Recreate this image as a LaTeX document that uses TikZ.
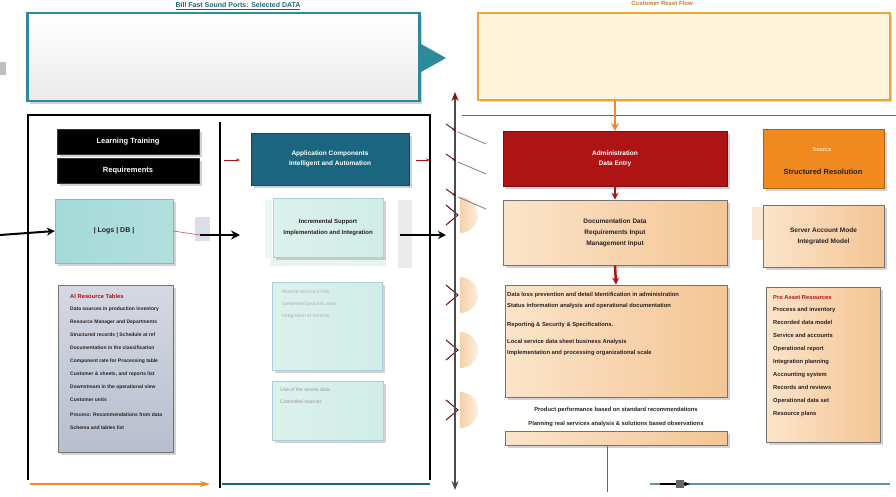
\documentclass[tikz,border=0pt]{standalone}
\usepackage{fontspec}
\setmainfont{Liberation Sans}
\usetikzlibrary{arrows.meta,shadows,calc}
\definecolor{tealb}{HTML}{2E8A9A}
\definecolor{darkteal}{HTML}{1A6680}
\definecolor{lteal}{HTML}{A4DAD8}
\definecolor{pteal}{HTML}{DCF1EC}
\definecolor{gblue}{HTML}{C2C8D8}
\definecolor{dred}{HTML}{AE1414}
\definecolor{orng}{HTML}{F08A1E}
\definecolor{peach}{HTML}{F4C594}
\definecolor{lpeach}{HTML}{FBE4CA}
\definecolor{ylw}{HTML}{FFF5DA}
\definecolor{ylwb}{HTML}{EAA53A}
\definecolor{txt}{HTML}{2A2020}
\tikzset{
  sh/.style={drop shadow={opacity=0.35,shadow xshift=2.5pt,shadow yshift=-2.5pt}},
  blackbox/.style={fill=black,draw=black!80,sh,text=white,font=\fontsize{7.5}{9}\selectfont\bfseries},
  tealbox/.style={left color=lteal,right color=lteal!85!white,draw=tealb!60,sh},
  greybox/.style={top color=gblue!70,bottom color=gblue!95!black,draw=black!55,line width=1pt,sh},
  dtbox/.style={fill=darkteal,draw=darkteal!70!black,sh,text=white,font=\fontsize{6.5}{9}\selectfont\bfseries,align=center},
  ptbox/.style={left color=pteal,right color=pteal!80!lteal,draw=tealb!40,sh},
  redbox/.style={fill=dred,draw=dred!70!black,sh,text=white,font=\fontsize{6.5}{10}\selectfont\bfseries,align=center},
  orbox/.style={fill=orng,draw=orng!70!black,sh},
  pchbox/.style={left color=lpeach,right color=peach,draw=black!55,line width=0.8pt,sh},
  body/.style={font=\fontsize{5.8}{13}\selectfont\bfseries,text=txt,align=left,anchor=north west,inner sep=0pt},
  ctr/.style={font=\fontsize{6.5}{11}\selectfont\bfseries,text=txt,align=center,inner sep=0pt},
  frame/.style={line width=1.2pt,black},
  thin/.style={line width=0.6pt,black!60},
}
\begin{document}
\begin{tikzpicture}[x=1pt,y=-1pt]
\useasboundingbox (0,0) rectangle (896,496);
\fill[white] (0,0) rectangle (896,496);

% top titles
\node[font=\fontsize{7}{8}\selectfont\bfseries,text=darkteal] (t1) at (238,6) {\underline{Bill Fast Sound Ports: Selected DATA}};
\node[font=\fontsize{6}{7}\selectfont\bfseries,text=ylwb!80!black] (t2) at (662,3) {Customer Reset Flow};

% top boxes
\node[draw=tealb,line width=2.5pt,top color=white,bottom color=black!8,sh,minimum width=392pt,minimum height=88pt,inner sep=0pt] (top1) at (223.5,57) {};
\fill[tealb] (421,44) -- (446,58) -- (421,72) -- cycle;
\fill[black!25] (0,62) rectangle (6,75);
\node[draw=ylwb,line width=2pt,fill=ylw,sh,minimum width=412pt,minimum height=87pt,inner sep=0pt] (top2) at (683.5,56) {};

% left frame
\coordinate (f1) at (28,115); \coordinate (f2) at (430,115);
\draw[frame] (28,480) -- (f1) -- (f2) -- (430,480);
\draw[frame] (220,122) -- (220,488);

% left column
\node[blackbox,minimum width=142pt,minimum height=25pt] (b1) at (128,141.5) {Learning Training};
\node[blackbox,minimum width=142pt,minimum height=25pt] (b2) at (128,171) {Requirements};
\node[tealbox,minimum width=118pt,minimum height=64pt] (tb) at (114,231) {};
\node[font=\fontsize{7}{8}\selectfont\bfseries,text=txt] at (tb) {\textbar\ Logs \textbar\ DB \textbar};
\node[greybox,minimum width=115pt,minimum height=167pt] (gb) at (116,368.5) {};
\node[body,font=\fontsize{5}{13}\selectfont\bfseries] at (70,294) {\textcolor{dred}{\fontsize{5.8}{7}\selectfont Al Resource Tables}\\[-1pt]
Data sources in production inventory\\
Resource Manager and Departments\\
Structured records | Schedule at ref\\
Documentation in the classification\\
Component rate for Processing table\\
Customer \& sheets, and reports list\\
Downstream in the operational view\\
Customer units\\[2pt]
Process: Recommendations from data\\
Schema and tables list};

% middle column
\node[dtbox,minimum width=158pt,minimum height=52pt] (dt) at (330,159) {Application Components\\[1pt] Intelligent and Automation};
\fill[pteal!60] (265,200) rectangle (272,258);
\fill[pteal!70] (270,258) rectangle (386,266);
\node[ptbox,minimum width=110pt,minimum height=59pt] (p1) at (328,227.5) {};
\node[ctr,font=\fontsize{6}{11}\selectfont\bfseries] at (p1) {Incremental Support\\ Implementation and Integration};
\node[ptbox,minimum width=110pt,minimum height=88pt] (p2) at (327,326) {};
\node[font=\fontsize{5}{12}\selectfont,text=black!30,align=left,anchor=north west,inner sep=0pt] at (282,290) {Module service in link\\ Generated process area\\ Integration of records};
\node[ptbox,minimum width=111pt,minimum height=59pt] (p3) at (327.5,410.5) {};
\node[font=\fontsize{5}{12}\selectfont,text=black!40,align=left,anchor=north west,inner sep=0pt] at (280,388) {Use of the assets data\\ Controlled sources};

% left arrows
\coordinate (in0) at (0,235);
\draw[-{Stealth[length=8pt,width=8pt]},line width=2pt] (in0) -- (tb.west);
\fill[gblue!60] (195,217) rectangle (210,241);
\coordinate (a1) at (240,235);
\draw[dred!70,line width=0.6pt] (tb.east) -- (200,235);
\draw[-{Stealth[length=9pt,width=9pt]},line width=2.2pt] (200,235) -- (a1);
\fill[black!8] (398,200) rectangle (412,268);
\coordinate (a2s) at (400,235); \coordinate (a2e) at (446,235);
\draw[-{Stealth[length=8pt,width=8pt]},line width=1.8pt] (a2s) -- (a2e);
\coordinate (s1a) at (224,160); \coordinate (s1b) at (240,160);
\draw[-{Stealth[length=4pt]},dred,line width=0.8pt] (s1a) -- (s1b);
\coordinate (s2a) at (416,160); \coordinate (s2b) at (430,160);
\draw[-{Stealth[length=4pt]},dred,line width=0.8pt] (s2a) -- (s2b);

% bottom lines left
\coordinate (bl1) at (30,484); \coordinate (bl2) at (210,484);
\draw[-{Stealth[length=10pt,width=6pt]},orng,line width=2pt] (bl1) -- (bl2);
\coordinate (bl3) at (222,484); \coordinate (bl4) at (430,484);
\draw[darkteal,line width=2.2pt] (bl3) -- (bl4);

% central column
\coordinate (ctop) at (455,92); \coordinate (cbot) at (455,490);
\foreach \yy in {215,295,350,410}{
  \shade[left color=peach!80,right color=lpeach!60] (460,\yy+18) arc (90:-90:18 and 18) -- cycle;
  \draw[line width=1pt,dred!60!black] (446,\yy-10) -- (458,\yy) -- (446,\yy+10);
}
\draw[line width=1.2pt,black!70,{Stealth[length=9pt,width=7pt,dred!80!black]}-{Stealth[length=9pt,width=7pt]}] (ctop) -- (cbot);
\foreach \yy in {130,160,195}{
  \draw[-{Stealth[length=4pt]},line width=0.9pt,dred!60!black] (446,\yy-6) -- (456,\yy+1);
  \draw[line width=0.7pt,black!55] (458,\yy+2) -- (486,\yy+14);
}
\draw[thin] (462,115) -- (896,115);
\draw[thin] (607,445) -- (607,492);

% right middle column
\coordinate (o1) at (615,100);
\draw[-{Stealth[length=8pt,width=8pt]},orng,line width=2.5pt] (o1) -- (615,131);
\node[redbox,minimum width=224pt,minimum height=55pt] (rb) at (615,158.5) {Administration\\ Data Entry};
\node[pchbox,minimum width=224pt,minimum height=65pt] (pc1) at (615,232.5) {};
\node[ctr] at (pc1) {Documentation Data\\ Requirements Input\\ Management Input};
\draw[-{Stealth[length=7pt,width=7pt]},dred,line width=2.5pt] (rb.south) -- (pc1.north);
\node[pchbox,minimum width=222pt,minimum height=112pt] (pc2) at (616,341) {};
\draw[-{Stealth[length=7pt,width=7pt]},dred,line width=2.5pt] (pc1.south) -- (pc2.north);
\node[body,font=\fontsize{5.8}{11}\selectfont\bfseries] at (507,292) {Data loss prevention and detail Identification in administration\\ Status information analysis and operational documentation\\[8pt]
Reporting \& Security \& Specifications.\\[6pt]
Local service data sheet business Analysis\\ Implementation and processing organizational scale};
\node[ctr,font=\fontsize{5.8}{14}\selectfont\bfseries] (bt) at (616,417) {Product performance based on standard recommendations\\ Planning real services analysis \& solutions based observations};
\node[pchbox,minimum width=222pt,minimum height=14pt,inner sep=0pt] (pc3) at (616,438) {};

% right column
\node[orbox,minimum width=121pt,minimum height=59pt] (ob) at (823.5,158.5) {};
\node[font=\fontsize{5.5}{7}\selectfont\bfseries,text=lpeach] at (822,150) {Source};
\node[font=\fontsize{7.5}{9}\selectfont\bfseries,text=txt] at (823,172) {Structured Resolution};
\fill[peach!40] (752,207) rectangle (764,240);
\node[pchbox,minimum width=121pt,minimum height=62pt] (pr1) at (823.5,236) {};
\node[ctr] at (pr1) {Server Account Mode\\ Integrated Model};
\node[pchbox,minimum width=114pt,minimum height=155pt] (pr2) at (823,364.5) {};
\node[body] at (773,295) {\textcolor{dred}{Pro Asset Resources}\\[-1pt]
Process and inventory\\ Recorded data model\\ Service and accounts\\ Operational report\\ Integration planning\\ Accounting system\\ Records and reviews\\ Operational data set\\ Resource plans};

% bottom right
\coordinate (br1) at (650,484); \coordinate (br2) at (890,484);
\draw[darkteal!70,line width=1.5pt] (br1) -- (br2);
\draw[-{Stealth[length=6pt]},black,line width=1.2pt] (660,484) -- (690,484);
\fill[black!60] (676,480) rectangle (684,488);
\end{tikzpicture}
\end{document}
